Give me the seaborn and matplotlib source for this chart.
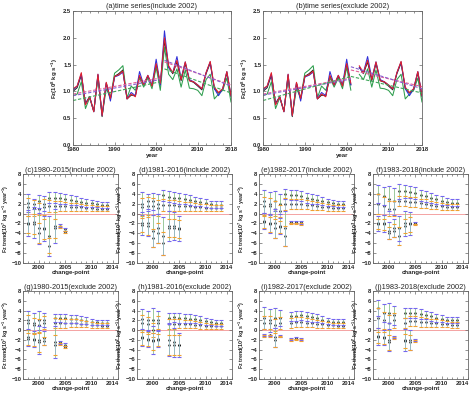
import matplotlib
matplotlib.use("Agg")
import numpy as np
import pandas as pd
import matplotlib.pyplot as plt
import seaborn as sns
from matplotlib.ticker import MultipleLocator, FixedLocator, FormatStrFormatter

# ---------------- data: time series (10^8 kg s^-1) ----------------
years = list(range(1980, 2019))
fz_red = [1.05, 1.10, 1.35, 0.75, 0.90, 0.62, 1.32, 0.55, 1.17, 0.87, 1.28, 1.31, 1.38, 0.86, 0.95,
          0.90, 1.30, 1.12, 1.30, 1.10, 1.52, 1.15, 2.00, 1.48, 1.35, 1.58, 1.22, 1.55, 1.20, 1.18,
          1.12, 1.05, 1.35, 1.56, 1.08, 0.98, 1.05, 1.37, 0.92]
fz_blue = [1.03, 1.10, 1.33, 0.76, 0.90, 0.62, 1.32, 0.55, 1.16, 0.82, 1.27, 1.30, 1.36, 0.86, 0.98,
           0.92, 1.37, 1.12, 1.30, 1.12, 1.60, 1.12, 2.13, 1.45, 1.35, 1.65, 1.24, 1.55, 1.22, 1.18,
           1.12, 1.05, 1.35, 1.55, 1.05, 0.92, 1.05, 1.37, 0.92]
fz_green = [0.92, 0.95, 1.18, 0.68, 0.88, 0.63, 1.25, 0.55, 1.05, 0.88, 1.34, 1.40, 1.48, 0.88, 1.10,
            1.02, 1.25, 1.08, 1.25, 1.05, 1.45, 1.02, 1.82, 1.32, 1.22, 1.42, 1.08, 1.40, 1.06, 1.05,
            1.02, 0.92, 1.22, 1.32, 0.86, 0.95, 1.02, 1.25, 0.80]
fz_black = [1.00, 1.07, 1.30, 0.78, 0.90, 0.63, 1.30, 0.53, 1.15, 0.86, 1.28, 1.33, 1.40, 0.86, 0.93,
            0.92, 1.28, 1.12, 1.28, 1.10, 1.50, 1.12, 1.95, 1.45, 1.33, 1.55, 1.20, 1.52, 1.20, 1.17,
            1.10, 1.03, 1.33, 1.53, 1.05, 0.97, 1.03, 1.35, 0.90]

# piecewise linear trends (end points)
a_pre_years = [1980, 2001]
a_post_years = [2002, 2018]
a_red_pre, a_red_post = [0.95, 1.25], [1.55, 1.12]
a_blue_pre, a_blue_post = [0.92, 1.22], [1.58, 1.10]
a_green_pre, a_green_post = [0.83, 1.18], [1.42, 0.97]
b_pre_years = [1980, 2001]
b_post_years = [2001, 2018]
b_red_pre, b_red_post = [0.95, 1.25], [1.40, 1.09]
b_blue_pre, b_blue_post = [0.93, 1.23], [1.46, 1.05]
b_green_pre, b_green_post = [0.83, 1.28], [1.28, 0.97]

# ---------------- data: change-point trends (10^7 kg s^-1 year^-1) ----------------
cp_inc = [1998, 1999, 2000, 2001, 2002, 2003, 2004, 2005, 2006, 2007, 2008, 2009, 2010, 2011, 2012, 2013]
cp_exc = [1998, 1999, 2000, 2001, 2003, 2004, 2005, 2006, 2007, 2008, 2009, 2010, 2011, 2012, 2013]

# (c) 1980-2015 include 2002
c_up_m1 = [2.2, 2.0, 2.5, 2.0, 3.2, 3.2, 3.1, 3.0, 2.7, 2.6, 2.4, 2.2, 2.1, 1.9, 1.8, 1.8]
c_up_e1 = [1.8, 1.0, 1.3, 1.5, 1.1, 1.1, 1.1, 1.0, 1.0, 0.9, 0.8, 0.8, 0.7, 0.6, 0.6, 0.6]
c_up_m2 = [1.4, 1.2, 1.0, 1.4, 1.6, 1.5, 1.5, 1.5, 1.4, 1.4, 1.3, 1.2, 1.1, 1.0, 1.0, 1.0]
c_up_e2 = [1.8, 1.6, 1.2, 1.6, 1.2, 1.1, 1.0, 0.9, 0.8, 0.8, 0.7, 0.6, 0.55, 0.5, 0.5, 0.5]
c_lo_m1 = [-1.9, -1.8, -3.0, -3.0, -4.5, -2.5, -2.5, -3.2]
c_lo_e1 = [2.6, 3.2, 3.2, 2.5, 4.0, 3.5, 0.3, 0.3]
c_lo_m2 = [-2.2, -2.1, -4.0, -3.2, -6.5, -3.0, -2.8, -3.7]
c_lo_e2 = [1.8, 2.0, 2.0, 2.0, 1.5, 2.0, 0.2, 0.2]

# (d) 1981-2016 include 2002
d_up_m1 = [2.0, 2.5, 2.5, 2.0, 3.7, 3.4, 3.2, 3.1, 2.9, 2.7, 2.5, 2.3, 2.1, 1.9, 1.8, 1.8]
d_up_e1 = [2.3, 1.5, 1.7, 2.0, 1.1, 1.1, 1.1, 1.1, 1.0, 1.0, 0.9, 0.8, 0.8, 0.7, 0.7, 0.7]
d_up_m2 = [1.3, 1.5, 1.5, 1.2, 1.8, 1.7, 1.7, 1.6, 1.5, 1.5, 1.4, 1.3, 1.2, 1.1, 1.1, 1.1]
d_up_e2 = [1.8, 1.8, 1.7, 1.6, 1.2, 1.1, 1.1, 1.0, 0.9, 0.9, 0.8, 0.7, 0.7, 0.6, 0.6, 0.6]
d_lo_m1 = [-2.0, -2.0, -3.5, -3.0, -4.5, -2.5, -2.5, -3.0]
d_lo_e1 = [2.3, 2.5, 3.3, 3.0, 3.8, 3.0, 2.8, 2.5]
d_lo_m2 = [-2.3, -2.5, -5.0, -4.0, -6.0, -3.0, -3.0, -3.2]
d_lo_e2 = [1.5, 1.8, 1.8, 2.0, 2.3, 1.8, 1.8, 1.8]

# (e) 1982-2017 include 2002
e_up_m1 = [2.5, 2.0, 2.5, 2.0, 4.0, 3.8, 3.7, 3.5, 3.2, 3.0, 2.8, 2.5, 2.3, 2.1, 2.0, 2.0]
e_up_e1 = [2.3, 2.3, 2.0, 2.0, 1.0, 1.0, 1.0, 1.0, 1.0, 1.0, 0.9, 0.8, 0.7, 0.6, 0.6, 0.6]
e_up_m2 = [1.5, 1.5, 1.0, 0.5, 2.0, 2.0, 2.0, 1.9, 1.8, 1.7, 1.6, 1.4, 1.3, 1.2, 1.1, 1.1]
e_up_e2 = [1.8, 1.6, 1.5, 1.2, 1.2, 1.0, 1.0, 1.0, 0.9, 0.9, 0.8, 0.7, 0.7, 0.6, 0.6, 0.6]
e_lo_m1 = [-1.5, -2.0, -2.0, -2.5, -3.0, -1.8, -1.8, -1.8]
e_lo_e1 = [1.7, 2.0, 3.0, 1.7, 3.5, 0.2, 0.2, 0.3]
e_lo_m2 = [-1.7, -2.2, -3.0, -2.7, -4.5, -2.0, -2.0, -2.1]
e_lo_e2 = [1.2, 1.5, 2.0, 1.2, 2.0, 0.15, 0.15, 0.15]

# (f) 1983-2018 include 2002
f_up_m1 = [4.0, 3.5, 3.0, 2.5, 4.5, 4.5, 4.3, 4.1, 3.7, 3.5, 3.2, 2.9, 2.6, 2.4, 2.2, 2.2]
f_up_e1 = [1.8, 1.8, 2.5, 2.7, 1.5, 1.3, 1.2, 1.2, 1.1, 1.1, 1.0, 0.9, 0.9, 0.7, 0.7, 0.7]
f_up_m2 = [2.0, 1.5, 1.0, 1.0, 2.5, 2.5, 2.4, 2.3, 2.1, 2.0, 1.8, 1.6, 1.5, 1.3, 1.3, 1.3]
f_up_e2 = [2.0, 1.8, 1.5, 1.5, 1.0, 1.0, 1.0, 1.0, 0.9, 0.9, 0.8, 0.7, 0.7, 0.6, 0.6, 0.6]
f_lo_m1 = [-2.0, -2.0, -3.5, -3.0, -3.0, -2.0, -2.0, -2.0]
f_lo_e1 = [1.5, 1.8, 1.7, 1.8, 2.5, 2.5, 2.3, 0.2]
f_lo_m2 = [-2.2, -2.2, -4.0, -3.5, -4.5, -2.5, -2.2, -2.2]
f_lo_e2 = [1.0, 1.2, 1.2, 1.3, 1.8, 1.5, 1.5, 0.15]

# (g) 1980-2015 exclude 2002
g_up_m1 = [2.0, 1.5, 2.0, 2.0, 2.5, 2.4, 2.4, 2.3, 2.3, 2.1, 1.9, 1.7, 1.6, 1.5, 1.5]
g_up_e1 = [2.0, 2.0, 1.9, 1.4, 0.8, 0.8, 0.9, 0.8, 0.8, 0.8, 0.7, 0.6, 0.5, 0.5, 0.5]
g_up_m2 = [1.5, 1.0, 1.0, 1.5, 1.5, 1.4, 1.4, 1.4, 1.4, 1.3, 1.2, 1.1, 1.0, 0.9, 0.9]
g_up_e2 = [1.5, 1.5, 1.3, 1.3, 1.0, 0.9, 0.9, 0.8, 0.8, 0.7, 0.6, 0.6, 0.5, 0.5, 0.5]
g_lo_m1 = [-1.5, -1.8, -2.0, -1.6, -2.5, -2.5, -3.0]
g_lo_e1 = [1.8, 1.7, 2.8, 1.4, 3.3, 0.3, 0.3]
g_lo_m2 = [-1.8, -2.0, -2.5, -2.2, -3.0, -2.8, -3.5]
g_lo_e2 = [1.2, 1.2, 2.0, 0.8, 2.0, 0.2, 0.2]

# (h) 1981-2016 exclude 2002
h_up_m1 = [2.2, 2.0, 2.0, 2.0, 2.5, 2.6, 2.5, 2.4, 2.3, 2.2, 2.0, 1.8, 1.6, 1.5, 1.5]
h_up_e1 = [2.1, 2.0, 2.5, 2.0, 1.0, 1.0, 1.0, 0.9, 0.9, 0.8, 0.8, 0.7, 0.6, 0.6, 0.6]
h_up_m2 = [1.5, 1.2, 0.0, 1.5, 1.3, 1.3, 1.3, 1.2, 1.2, 1.1, 1.0, 0.9, 0.8, 0.8, 0.8]
h_up_e2 = [1.5, 1.5, 1.5, 1.3, 1.0, 1.0, 0.9, 0.8, 0.8, 0.7, 0.7, 0.6, 0.5, 0.5, 0.5]
h_lo_m1 = [-1.5, -1.8, -2.0, -1.8, -2.0, -2.5, -3.0]
h_lo_e1 = [1.8, 1.7, 2.8, 1.7, 3.3, 3.0, 2.5]
h_lo_m2 = [-1.7, -2.0, -2.3, -2.0, -3.0, -3.0, -3.0]
h_lo_e2 = [1.3, 1.3, 1.8, 1.2, 2.0, 2.0, 2.0]

# (i) 1982-2017 exclude 2002
i_up_m1 = [2.5, 2.0, 2.5, 2.5, 2.8, 2.9, 3.0, 2.8, 2.6, 2.4, 2.1, 1.9, 1.7, 1.7, 1.7]
i_up_e1 = [2.3, 2.3, 2.0, 1.7, 0.9, 1.0, 1.0, 0.9, 0.9, 0.8, 0.7, 0.6, 0.6, 0.6, 0.6]
i_up_m2 = [1.5, 1.5, 1.0, 1.5, 1.5, 1.6, 1.6, 1.5, 1.4, 1.3, 1.2, 1.1, 1.0, 0.9, 0.9]
i_up_e2 = [1.3, 1.3, 1.2, 1.2, 1.0, 1.0, 1.0, 0.9, 0.8, 0.8, 0.7, 0.6, 0.5, 0.5, 0.5]
i_lo_m1 = [-1.0, -1.1, -1.5, -1.2, -1.8, -1.7, -1.8]
i_lo_e1 = [0.2, 0.2, 2.0, 0.2, 0.2, 0.2, 0.2]
i_lo_m2 = [-1.2, -1.2, -2.0, -1.3, -2.0, -1.9, -2.0]
i_lo_e2 = [0.15, 0.15, 1.5, 0.15, 0.15, 0.15, 0.15]

# (j) 1983-2018 exclude 2002
j_up_m1 = [4.5, 3.5, 3.5, 3.0, 3.5, 3.5, 3.5, 3.3, 3.1, 2.8, 2.5, 2.3, 2.1, 2.0, 2.0]
j_up_e1 = [1.7, 1.8, 2.0, 2.0, 1.0, 1.0, 1.0, 1.0, 0.9, 0.9, 0.8, 0.7, 0.6, 0.6, 0.6]
j_up_m2 = [2.5, 2.0, 1.5, 2.0, 1.5, 1.8, 1.8, 1.7, 1.6, 1.5, 1.4, 1.3, 1.2, 1.1, 1.1]
j_up_e2 = [2.0, 1.8, 1.5, 1.5, 1.0, 1.0, 1.0, 1.0, 0.9, 0.8, 0.8, 0.7, 0.6, 0.6, 0.6]
j_lo_m1 = [-1.3, -1.5, -2.0, -1.5, -2.0, -2.0, -2.0]
j_lo_e1 = [1.7, 1.5, 2.2, 0.2, 2.2, 2.0, 0.2]
j_lo_m2 = [-1.5, -1.6, -2.5, -1.6, -2.2, -2.5, -2.2]
j_lo_e2 = [1.2, 1.2, 1.5, 0.15, 1.5, 1.5, 0.15]

panel_titles = ["(c)1980-2015(include 2002)", "(d)1981-2016(include 2002)",
                "(e)1982-2017(include 2002)", "(f)1983-2018(include 2002)",
                "(g)1980-2015(exclude 2002)", "(h)1981-2016(exclude 2002)",
                "(i)1982-2017(exclude 2002)", "(j)1983-2018(exclude 2002)"]

# ---------------- style ----------------
sns.set_theme(style="ticks")
plt.rcParams['font.family'] = ['Liberation Sans', 'DejaVu Sans']
plt.rcParams['mathtext.fontset'] = 'custom'
plt.rcParams['mathtext.rm'] = 'Liberation Sans'
plt.rcParams['mathtext.bf'] = 'Liberation Sans:bold'
plt.rcParams['mathtext.default'] = 'regular'

FS_T = 5.3
FS_L = 4.4
FS_K = 4.2
SPINE = '#666666'

W, H = 474, 398
fig = plt.figure(figsize=(W / 100, H / 100), dpi=100)


def add_ax(l, t, r, b):
    return fig.add_axes([l / W, 1 - b / H, (r - l) / W, (b - t) / H])


def style_axes(ax):
    for s in ax.spines.values():
        s.set_color(SPINE)
        s.set_linewidth(0.6)
    ax.tick_params(which='both', direction='in', top=True, right=True,
                   labelsize=FS_K, width=0.5, color=SPINE, pad=1.2)
    ax.tick_params(which='major', length=2.2)
    ax.tick_params(which='minor', length=1.2)
    for lab in ax.get_xticklabels() + ax.get_yticklabels():
        lab.set_fontweight('bold')


col_list = {'black': '#222222', 'green': '#2e9e4e', 'blue': '#2f2fd8', 'red': '#e3202a'}
trend_cols = {'red': '#e2609a', 'blue': '#8a5fd0', 'green': '#3fa65a'}


def ts_frame(exclude):
    rows = []
    for name, vals in [('black', fz_black), ('green', fz_green), ('blue', fz_blue), ('red', fz_red)]:
        for y, v in zip(years, vals):
            if exclude and y == 2002:
                continue
            seg = 0 if y < 2002 else 1
            rows.append((name, y, v, seg if exclude else 0))
    return pd.DataFrame(rows, columns=['src', 'year', 'fz', 'seg'])


def draw_ts(ax, exclude, title, pre_y, post_y, trends):
    df = ts_frame(exclude)
    sns.lineplot(data=df, x='year', y='fz', hue='src', units='seg', estimator=None,
                 palette=col_list, hue_order=['black', 'green', 'blue', 'red'],
                 linewidth=0.75, legend=False, ax=ax)
    for name, (pre, post) in trends.items():
        ax.plot(pre_y, pre, color=trend_cols[name], lw=0.8, ls=(0, (3, 1.6)))
        ax.plot(post_y, post, color=trend_cols[name], lw=0.8, ls=(0, (3, 1.6)))
    ax.set_xlim(1980, 2018)
    ax.set_ylim(0, 2.5)
    ax.xaxis.set_major_locator(FixedLocator([1980, 1990, 2000, 2010, 2018]))
    ax.xaxis.set_minor_locator(MultipleLocator(2))
    ax.yaxis.set_major_locator(MultipleLocator(0.5))
    ax.yaxis.set_major_formatter(FormatStrFormatter('%.1f'))
    ax.set_title(title, fontsize=FS_T, pad=2)
    ax.set_xlabel('year', fontsize=FS_L, fontweight='bold', labelpad=1)
    ax.set_ylabel(r'Fz(10$^8$ kg s$^{-1}$)', fontsize=FS_L, fontweight='bold', labelpad=2)
    style_axes(ax)


ax_a = add_ax(73, 11, 231, 145)
draw_ts(ax_a, False, '(a)time series(include 2002)', a_pre_years, a_post_years,
        {'red': (a_red_pre, a_red_post), 'blue': (a_blue_pre, a_blue_post),
         'green': (a_green_pre, a_green_post)})
ax_b = add_ax(263, 11, 422, 145)
draw_ts(ax_b, True, '(b)time series(exclude 2002)', b_pre_years, b_post_years,
        {'red': (b_red_pre, b_red_post), 'blue': (b_blue_pre, b_blue_post),
         'green': (b_green_pre, b_green_post)})


def draw_cluster(ax, xs, m1, e1, m2, e2):
    x = xs[:len(m1)]
    ax.errorbar(x, m1, yerr=e1, fmt='none', ecolor='#8cc08c', elinewidth=0.6, capsize=0)
    ax.errorbar(x, m2, yerr=e2, fmt='none', ecolor='#9ab8c8', elinewidth=0.6, capsize=0)
    ax.errorbar(x, m1, yerr=e1, fmt='none', ecolor='#7566f0', elinewidth=0, capsize=1.5, capthick=0.8)
    ax.errorbar(x, m2, yerr=e2, fmt='none', ecolor='#f0a030', elinewidth=0, capsize=1.5, capthick=0.8)
    sns.scatterplot(x=x, y=m1, color='black', s=3, linewidth=0, ax=ax)
    sns.scatterplot(x=x, y=m2, color='black', s=3, linewidth=0, ax=ax)


panels = [
    (cp_inc, c_up_m1, c_up_e1, c_up_m2, c_up_e2, c_lo_m1, c_lo_e1, c_lo_m2, c_lo_e2),
    (cp_inc, d_up_m1, d_up_e1, d_up_m2, d_up_e2, d_lo_m1, d_lo_e1, d_lo_m2, d_lo_e2),
    (cp_inc, e_up_m1, e_up_e1, e_up_m2, e_up_e2, e_lo_m1, e_lo_e1, e_lo_m2, e_lo_e2),
    (cp_inc, f_up_m1, f_up_e1, f_up_m2, f_up_e2, f_lo_m1, f_lo_e1, f_lo_m2, f_lo_e2),
    (cp_exc, g_up_m1, g_up_e1, g_up_m2, g_up_e2, g_lo_m1, g_lo_e1, g_lo_m2, g_lo_e2),
    (cp_exc, h_up_m1, h_up_e1, h_up_m2, h_up_e2, h_lo_m1, h_lo_e1, h_lo_m2, h_lo_e2),
    (cp_exc, i_up_m1, i_up_e1, i_up_m2, i_up_e2, i_lo_m1, i_lo_e1, i_lo_m2, i_lo_e2),
    (cp_exc, j_up_m1, j_up_e1, j_up_m2, j_up_e2, j_lo_m1, j_lo_e1, j_lo_m2, j_lo_e2),
]

col_left = [23, 137, 259, 373]
row_tb = [(174, 263), (291, 379)]

for k, p in enumerate(panels):
    r, c = divmod(k, 4)
    t, b = row_tb[r]
    ax = add_ax(col_left[c], t, col_left[c] + 95, b)
    xs = p[0]
    ax.axhline(0, color='#f4a3a3', lw=0.7, zorder=0)
    draw_cluster(ax, xs, p[1], p[2], p[3], p[4])
    draw_cluster(ax, xs, p[5], p[6], p[7], p[8])
    ax.set_xlim(1997, 2015)
    ax.set_ylim(-10, 8)
    ax.xaxis.set_major_locator(FixedLocator([2000, 2005, 2010, 2014]))
    ax.xaxis.set_minor_locator(MultipleLocator(1))
    ax.yaxis.set_major_locator(MultipleLocator(2))
    ax.set_title(panel_titles[k], fontsize=FS_T, pad=1.5)
    ax.set_xlabel('change-point', fontsize=FS_L, fontweight='bold', labelpad=0.5)
    ax.set_ylabel(r'Fz trend(10$^7$ kg s$^{-1}$ year$^{-1}$)', fontsize=3.9,
                  fontweight='bold', labelpad=0.3)
    style_axes(ax)

fig.savefig('out.png', dpi=100, facecolor='white')
